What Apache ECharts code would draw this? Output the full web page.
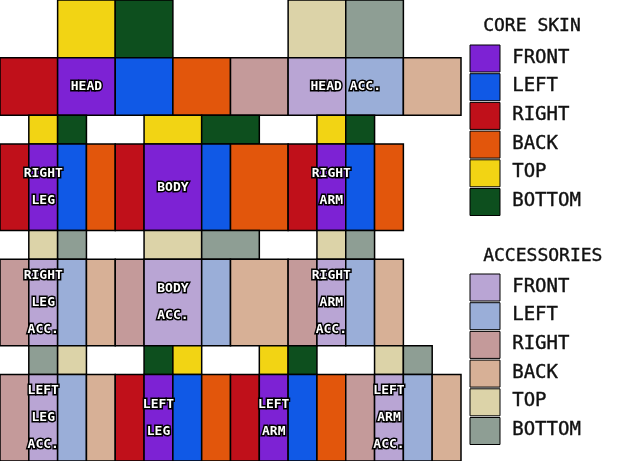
<!DOCTYPE html><html><head><meta charset="utf-8"><script src="https://cdn.jsdelivr.net/npm/echarts@6/dist/echarts.min.js"></script>
<style>html,body{margin:0;background:#fff}#c{width:640px;height:461px}</style></head><body><div id="c"></div><script>
const faces=['FRONT','LEFT','RIGHT','BACK','TOP','BOTTOM'];
const coreColors=['#7d22d4','#1059e6','#c0101a','#e2560c','#f2d414','#0d4f1e'];
const accColors=['#b9a5d4','#9aaed8','#c49a9a','#d7b096','#dcd3a8','#8e9e94'];
// name lines, u, v, w, h, d, set(0 core,1 acc), swapTopBottom
const parts=[
 [['HEAD'],0,0,8,8,8,0,0],
 [['HEAD ACC.'],32,0,8,8,8,1,0],
 [['RIGHT','LEG'],0,16,4,12,4,0,0],
 [['BODY'],16,16,8,12,4,0,0],
 [['RIGHT','ARM'],40,16,4,12,4,0,0],
 [['RIGHT','LEG','ACC.'],0,32,4,12,4,1,0],
 [['BODY','ACC.'],16,32,8,12,4,1,0],
 [['RIGHT','ARM','ACC.'],40,32,4,12,4,1,0],
 [['LEFT','LEG','ACC.'],0,48,4,12,4,1,1],
 [['LEFT','LEG'],16,48,4,12,4,0,1],
 [['LEFT','ARM'],32,48,4,12,4,0,0],
 [['LEFT','ARM','ACC.'],48,48,4,12,4,1,0]
];
const rects=[],labels=[];
parts.forEach(p=>{const[n,u,v,w,h,d,s,sw]=p;const c=s?accColors:coreColors;
 const t=sw?5:4,b=sw?4:5;
 rects.push([u+d,v,w,d,c[t]],[u+d+w,v,w,d,c[b]],[u,v+d,d,h,c[2]],[u+d,v+d,w,h,c[0]],[u+d+w,v+d,d,h,c[1]],[u+2*d+w,v+d,w,h,c[3]]);
 const cx=n[0]==='HEAD ACC.'?u+d+w:u+d+w/2;labels.push([cx,v+d+h/2,n.join('\n')]);
});
const chart=echarts.init(document.getElementById('c'));
const g=[];
function legend(title,ty,sy,cols){
 g.push({type:'text',left:483,top:ty,style:{text:title,font:'18px "DejaVu Sans Mono"',fill:'#111',stroke:'#111',lineWidth:0.4}});
 faces.forEach((f,i)=>{const y=sy+i*28.7;
  g.push({type:'rect',shape:{x:470,y:y,width:30,height:27},style:{fill:cols[i],stroke:'#000',lineWidth:1}});
  g.push({type:'text',left:512,top:y+3,style:{text:f,font:'19px "DejaVu Sans Mono"',fill:'#111',stroke:'#111',lineWidth:0.4}});});
}
legend('CORE SKIN',17,45,coreColors);legend('ACCESSORIES',247,274,accColors);
chart.setOption({animation:false,
 grid:{left:0,top:0,width:461,height:461},
 xAxis:{type:'value',min:0,max:64,show:false},yAxis:{type:'value',min:0,max:64,inverse:true,show:false},
 graphic:g,
 series:[{type:'custom',data:rects,renderItem:(p,api)=>{const a=api.coord([api.value(0),api.value(1)]);const b=api.coord([api.value(0)+api.value(2),api.value(1)+api.value(3)]);
   return{type:'rect',shape:{x:a[0],y:a[1],width:b[0]-a[0],height:b[1]-a[1]},style:{fill:rects[p.dataIndex][4],stroke:'#000',lineWidth:1.5}};}},
  {type:'custom',data:labels,renderItem:(p,api)=>{const a=api.coord([api.value(0),api.value(1)]);
   return{type:'text',x:a[0],y:a[1],style:{text:labels[p.dataIndex][2],align:'center',verticalAlign:'middle',font:'bold 13px "DejaVu Sans Mono"',lineHeight:27,fill:'#fff',stroke:'#000',lineWidth:3}};}}]
});
</script></body></html>
